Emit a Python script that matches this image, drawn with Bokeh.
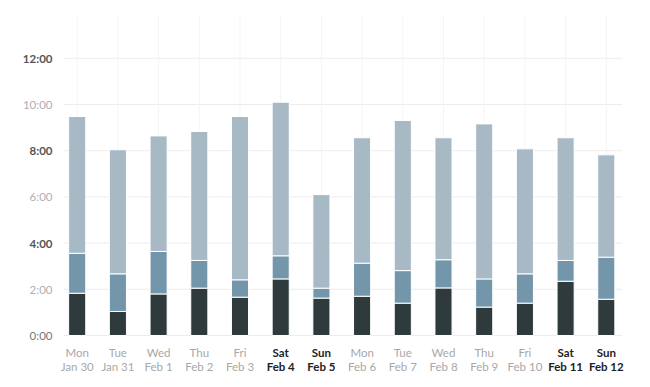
from bokeh.plotting import figure
from bokeh.models import ColumnDataSource, Range1d
from bokeh.core.properties import value
from bokeh.embed import file_html
from bokeh.resources import INLINE

# ---- data ----
weekdays = ["Mon", "Tue", "Wed", "Thu", "Fri", "Sat", "Sun",
            "Mon", "Tue", "Wed", "Thu", "Fri", "Sat", "Sun"]
dates = ["Jan 30", "Jan 31", "Feb 1", "Feb 2", "Feb 3", "Feb 4", "Feb 5",
         "Feb 6", "Feb 7", "Feb 8", "Feb 9", "Feb 10", "Feb 11", "Feb 12"]
weekend = [False, False, False, False, False, True, True,
           False, False, False, False, False, True, True]

# hours per segment (bottom -> top)
deep_hours = [1.83, 1.04, 1.80, 2.05, 1.66, 2.45, 1.62, 1.70, 1.40, 2.06, 1.23, 1.40, 2.35, 1.57]
mid_hours = [1.73, 1.63, 1.84, 1.20, 0.75, 1.00, 0.43, 1.43, 1.41, 1.22, 1.22, 1.27, 0.90, 1.82]
top_hours = [5.92, 5.37, 5.00, 5.58, 7.07, 6.65, 4.05, 5.43, 6.50, 5.28, 6.71, 5.41, 5.31, 4.43]

y_ticks = [0, 2, 4, 6, 8, 10, 12]
y_tick_labels = ["0:00", "2:00", "4:00", "6:00", "8:00", "10:00", "12:00"]

# ---- styling ----
DARK = "#2e3a3c"
MID = "#7396ab"
LIGHT = "#a7b9c5"
FONT = "Lato"
PLOT_X0, PLOT_X1 = -0.337, 13.39     # plotting area (data units)
PLOT_Y0, PLOT_Y1 = 0.0, 13.85

xs = list(range(len(weekdays)))

p = figure(width=634, height=378, output_backend="svg", toolbar_location=None,
           x_range=Range1d(-1.8845, 13.693), y_range=Range1d(-1.861, 14.502),
           x_axis_location=None, y_axis_location=None, min_border=0)
p.outline_line_color = None
p.grid.visible = False
p.background_fill_color = "white"
p.border_fill_color = "white"

# grid lines drawn from the tick arrays
p.segment(x0=[PLOT_X0] * len(y_ticks), x1=[PLOT_X1] * len(y_ticks), y0=y_ticks, y1=y_ticks,
          line_color="#efece8", line_width=1)
p.segment(x0=xs, x1=xs, y0=[PLOT_Y0] * len(xs), y1=[PLOT_Y1] * len(xs),
          line_color="#f4f4f2", line_width=1)

src = ColumnDataSource(dict(x=xs, deep=deep_hours, mid=mid_hours, top=top_hours))
p.vbar_stack(["deep", "mid", "top"], x="x", width=0.42, source=src,
             color=[DARK, MID, LIGHT], line_color="white", line_width=1)

# x labels
xlab = ColumnDataSource(dict(
    x=xs,
    y=[-0.45] * len(xs),
    text=[f"{w}\n{d}" for w, d in zip(weekdays, dates)],
    color=["#222222" if we else "#a8a8a8" for we in weekend],
    style=["bold" if we else "normal" for we in weekend],
))
p.text(x="x", y="y", text="text", source=xlab,
       text_align="center", text_baseline="top",
       text_color="color", text_font_style="style",
       text_font=value(FONT), text_font_size="11.5px", text_line_height=1.05)

# y labels
ycolors = ["#777777", "#b0b0b0", "#555555", "#b0b0b0", "#555555", "#b0b0b0", "#555555"]
ystyles = ["normal", "normal", "bold", "normal", "bold", "normal", "bold"]
ylab = ColumnDataSource(dict(
    x=[PLOT_X0 - 0.27] * len(y_ticks), y=y_ticks, text=y_tick_labels,
    color=ycolors, style=ystyles,
))
p.text(x="x", y="y", text="text", source=ylab,
       text_align="right", text_baseline="middle",
       text_color="color", text_font_style="style",
       text_font=value(FONT), text_font_size="11.5px")

open("out.html", "w").write(file_html(p, INLINE))
